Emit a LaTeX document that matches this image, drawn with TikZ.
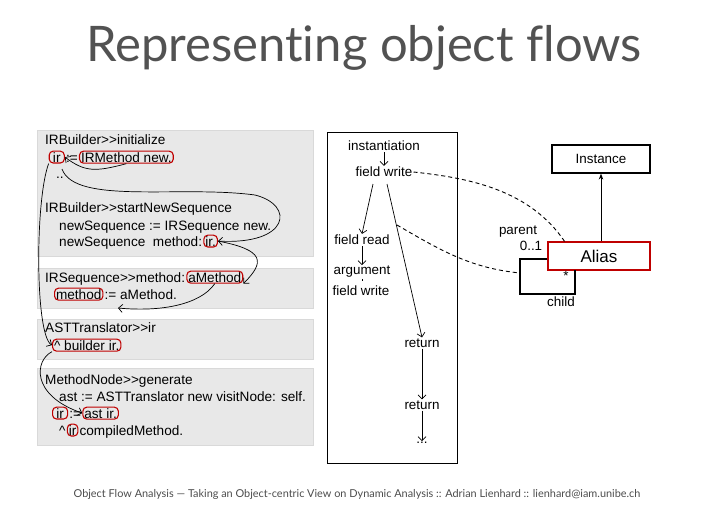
\documentclass[tikz,border=0pt]{standalone}
\usepackage{fontspec}
\setmainfont{Liberation Sans}[Ligatures={NoCommon}]
\newfontfamily\titlefont{Lato}[Ligatures={NoCommon}]
\usetikzlibrary{arrows.meta,positioning}
\begin{document}
\begin{tikzpicture}[x=1pt,y=-1pt,
  panel/.style={fill=black!9,draw=black!15,line width=0.6pt},
  t/.style={inner sep=1pt,anchor=base west,font=\fontsize{13.6}{15}\selectfont},
  rb/.style={t,draw=red!75!black,line width=1.1pt,rounded corners=4pt,inner xsep=1.5pt},
  s/.style={font=\fontsize{13.4}{15}\selectfont,inner sep=1pt},
  fl/.style={-{Straight Barb[length=4pt]},line width=0.7pt},
  ar/.style={-{Stealth[length=6pt]},line width=0.9pt},
  dsh/.style={dashed,line width=0.9pt,dash pattern=on 4pt off 3pt}]
\useasboundingbox (0,0) rectangle (728,515);
\node[font=\titlefont\fontsize{49}{52}\selectfont,text=black!68] (title) at (364,48) {Representing object flows};
% panels
\path[panel] (37,130) rectangle (313,256);
\path[panel] (37,268) rectangle (313,308);
\path[panel] (37,319) rectangle (313,359);
\path[panel] (37,368) rectangle (313,445);
% panel 1
\node[t] (h1) at (44,144) {IRBuilder{>}{>}initialize};
\node[t] (sp1) at (44,162) {\,};
\node[rb,right=0pt of sp1.base east,anchor=base west] (ir1) {\,ir\,};
\node[t,right=0pt of ir1.base east,anchor=base west] (as1) {:=};
\node[rb,right=0pt of as1.base east,anchor=base west] (irm) {IRMethod new.};
\node[t] (dd) at (55,178) {..};
\node[t] (h2) at (44,212) {IRBuilder{>}{>}startNewSequence};
\node[t] (l2) at (58,230) {newSequence := IRSequence new.};
\node[t] (l3) at (58,246) {newSequence\ \ method:};
\node[rb,right=0pt of l3.base east,anchor=base west] (ir2) {ir.};
% panel 2
\node[t] (h3) at (44,282) {IRSequence{>}{>}method:};
\node[rb,right=0pt of h3.base east,anchor=base west] (am) {aMethod};
\node[rb] (meth) at (54,299) {method};
\node[t,right=0pt of meth.base east,anchor=base west] (l4) {:= aMethod.};
% panel 3
\node[t] (h4) at (44,332) {ASTTranslator{>}{>}ir};
\node[rb] (bld) at (52,350) {\^{} builder ir.};
% panel 4
\node[t] (h5) at (44,384) {MethodNode{>}{>}generate};
\node[t] (l5) at (58,401) {ast := ASTTranslator new visitNode: self.};
\node[rb] (ir3) at (52,418) {\,ir\,};
\node[t,right=0pt of ir3.base east,anchor=base west] (as3) {:=};
\node[rb,right=0pt of as3.base east,anchor=base west] (astir) {ast ir.};
\node[t] (cr) at (58,435) {\^{}};
\node[rb,right=0pt of cr.base east,anchor=base west] (ir4) {ir};
\node[t,right=0pt of ir4.base east,anchor=base west] (cm) {compiledMethod.};
% left arrows
\draw[fl] (irm.south) .. controls (95,172) and (85,172) .. (ir1.east);
\draw[fl] (62,169) .. controls (75,205) and (180,185) .. (255,195) .. controls (295,205) and (290,245) .. (ir2.east);
\draw[fl] (ir2.east) .. controls (265,250) and (265,262) .. (am.south east);
\draw[fl] (am.south) .. controls (200,305) and (160,312) .. (118,308);
\draw[fl] (ir1.south west) .. controls (35,200) and (35,335) .. (bld.west);
\draw[fl] (bld.south west) .. controls (35,360) and (30,395) .. (astir.west);
% right panel
\node[draw,line width=0.8pt,minimum width=130,minimum height=331,anchor=north west,inner sep=0pt] (rp) at (327,132) {};
\node[s] (inst) at (384,146) {instantiation};
\node[s] (fw) at (384,172) {field write};
\node[s] (fr) at (362,240) {field read};
\node[s] (arg) at (362,272) {argument};
\node[s] (fw2) at (361,291) {field write};
\node[s] (r1) at (422,343) {return};
\node[s] (r2) at (422,405) {return};
\node[s] (dots) at (422,443) {...};
\draw[fl] (inst) -- (fw);
\draw[fl] (373,184) -- (fr.north);
\draw[fl] (387,184) -- (r1.north);
\draw[fl] (fr) -- (arg);
\draw[line width=0.6pt] (arg.south) -- ++(0,2);
\draw[fl] (r1) -- (r2);
\draw[fl] (r2) -- (dots.north);
% model
\node[draw,line width=1.2pt,minimum width=98,minimum height=28,inner sep=0pt,s] (instance) at (601,159) {Instance};
\node[draw=red!75!black,fill=white,line width=1.2pt,minimum width=102,minimum height=28,inner sep=0pt,font=\fontsize{17}{19}\selectfont] (alias) at (599,256) {Alias};
\draw[ar] (alias.north -| instance.south) -- (instance.south);
\coordinate (lpA) at (alias.west |- 0,259);
\coordinate (lpB) at (575,270);
\draw[line width=2.2pt] (lpA) -| (520,294) -| (lpB);
\node[s] (par) at (518,232) {parent};
\node[s] (p01) at (531,246) {0..1};
\node[s] (star) at (566,276) {*};
\node[s] (ch) at (561,302) {child};
\coordinate (lp) at (520,273);
\draw[dsh] (fw.east) .. controls (470,178) and (530,190) .. (565,242);
\draw[dsh] (397,225) .. controls (440,250) and (470,268) .. (lp);
\node[font=\titlefont\fontsize{10.9}{12}\selectfont,text=black!70] (foot) at (357,494) {Object Flow Analysis — Taking an Object-centric View on Dynamic Analysis :: Adrian Lienhard :: lienhard@iam.unibe.ch};
\end{tikzpicture}
\end{document}
